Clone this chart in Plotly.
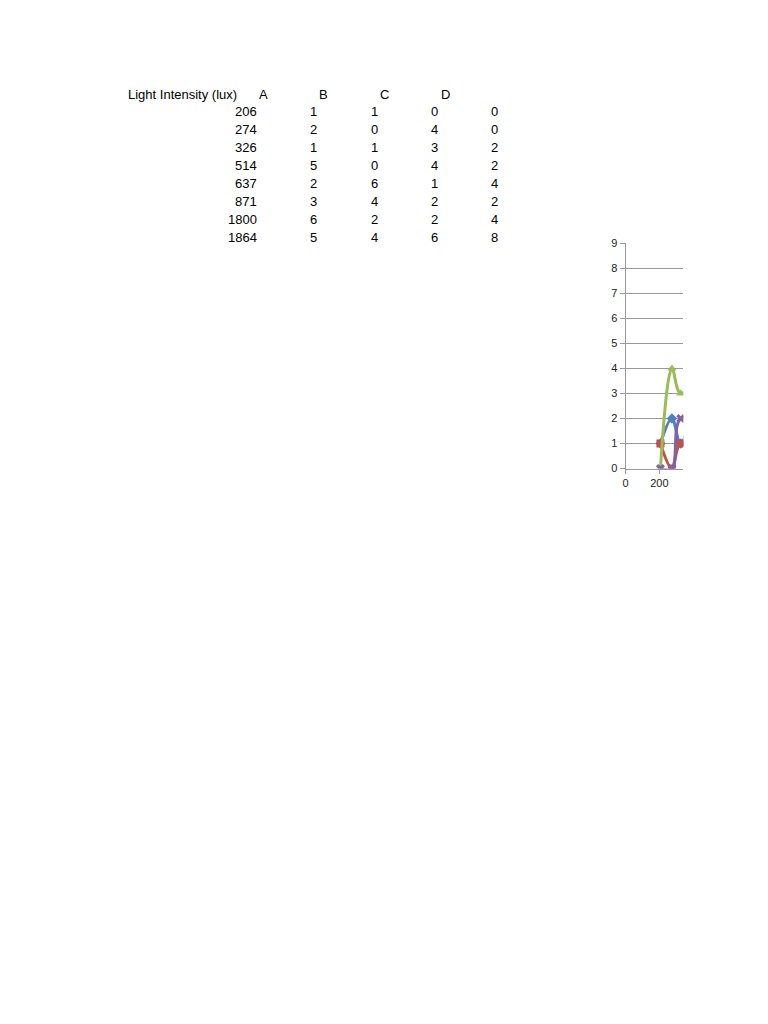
# Light intensity sheet: data table on the left, the line chart hanging off the right edge

import plotly.graph_objects as go

## Data
lux = [206, 274, 326, 514, 637, 871, 1800, 1864]
series_a = [1, 2, 1, 5, 2, 3, 6, 5]
series_b = [1, 0, 1, 0, 6, 4, 2, 4]
series_c = [0, 4, 3, 4, 1, 2, 2, 6]
series_d = [0, 0, 2, 2, 4, 2, 4, 8]
headers = ['Light Intensity (lux)', 'A', 'B', 'C', 'D']

# page body has an 8px margin, so the figure is shrunk to fit the window
PAD = 8
W, H = 768 - 2 * PAD, 1024 - 2 * PAD

def px(x):
    return (x - PAD) / W

def py(y):
    return 1 - (y - PAD) / H

## Chart
fig = go.Figure()
styles = [
    ('A', series_a, '#4F81BD', 'diamond'),
    ('B', series_b, '#C0504D', 'square'),
    ('C', series_c, '#9BBB59', 'triangle-up'),
    ('D', series_d, '#8064A2', 'x'),
]
for name, vals, color, symbol in styles:
    fig.add_trace(go.Scatter(
        x=lux, y=vals, name=name,
        mode='lines+markers',
        line=dict(color=color, width=3, shape='spline', smoothing=1),
        marker=dict(color=color, size=8, symbol=symbol),
        cliponaxis=True
    ))

## Table as text cells
font = dict(family='Liberation Sans, Arial, sans-serif', size=13, color='#000')
annotations = []
header_x = [124, 262, 322, 383, 444]
for i, h in enumerate(headers):
    annotations.append(dict(
        x=px(header_x[i]), y=py(89), xref='paper', yref='paper',
        text=h, showarrow=False, font=font, borderpad=0,
        xanchor='left' if i == 0 else 'center', yanchor='middle'
    ))

col_right = [256, 316, 377, 438, 498]
columns = [lux, series_a, series_b, series_c, series_d]
row_y0, row_step = 107, 18.2
for c, col in enumerate(columns):
    for r, v in enumerate(col):
        annotations.append(dict(
            x=px(col_right[c]), y=py(row_y0 + r * row_step),
            xref='paper', yref='paper',
            text=str(v), showarrow=False, font=font, borderpad=0,
            xanchor='right', yanchor='middle'
        ))

axis_font = dict(family='Liberation Sans, Arial, sans-serif', size=11, color='#222')
fig.update_layout(
    width=W, height=H,
    margin=dict(l=0, r=0, t=0, b=0),
    paper_bgcolor='white', plot_bgcolor='white',
    showlegend=False,
    annotations=annotations,
    xaxis=dict(
        domain=[px(625), px(683)],
        range=[0, 341], tickvals=[0, 200],
        showgrid=False, zeroline=False,
        showline=True, linecolor='#999', linewidth=1,
        ticks='outside', ticklen=4, tickcolor='#999',
        tickfont=axis_font
    ),
    yaxis=dict(
        domain=[py(468), py(240)],
        range=[0, 9], dtick=1,
        showgrid=True, gridcolor='#999', gridwidth=1,
        zeroline=False,
        showline=True, linecolor='#999', linewidth=1,
        ticks='outside', ticklen=5, tickcolor='#999',
        tickfont=axis_font
    )
)

fig.write_html('out.html')
